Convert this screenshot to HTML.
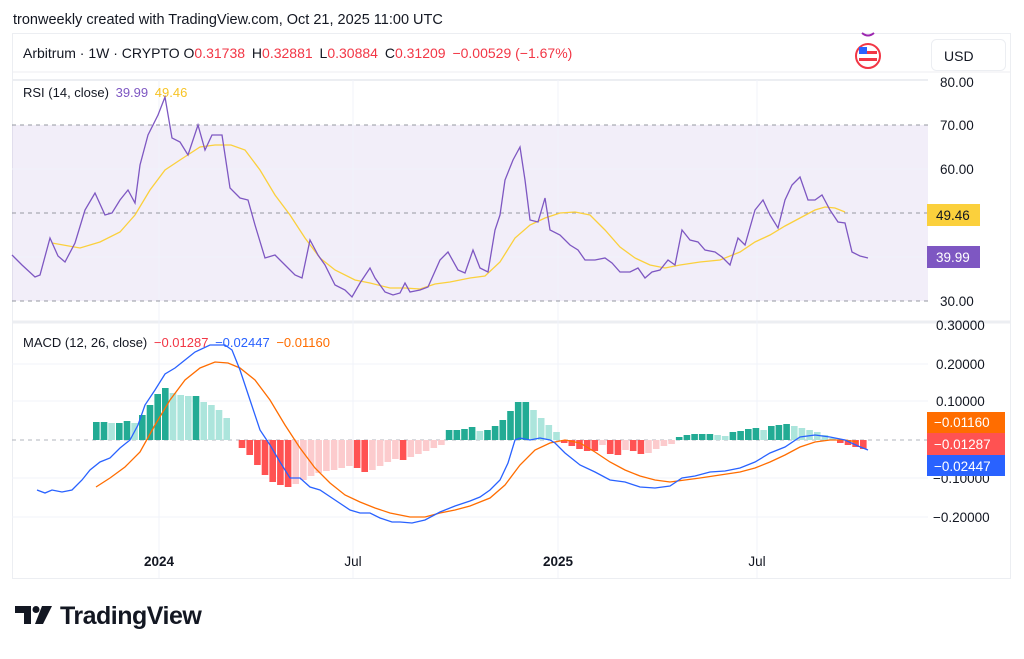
<!DOCTYPE html>
<html><head><meta charset="utf-8"><style>
body{margin:0;background:#fff;width:1024px;height:654px;overflow:hidden;font-family:"Liberation Sans",sans-serif}
svg text{font-family:"Liberation Sans",sans-serif}
</style></head><body>
<svg id="s" width="1024" height="654" viewBox="0 0 1024 654" xmlns="http://www.w3.org/2000/svg">
<rect width="1024" height="654" fill="#fff"/>
<text x="13" y="24" font-size="14.5" fill="#131722">tronweekly created with TradingView.com, Oct 21, 2025 11:00 UTC</text>
<rect x="12.5" y="33.5" width="998" height="545" fill="#fff" stroke="#eceef2"/>
<line x1="12" y1="72" x2="1010" y2="72" stroke="#eceef2"/>
<line x1="12" y1="80" x2="928" y2="80" stroke="#eceef2" stroke-width="2"/>
<line x1="12" y1="322" x2="1010" y2="322" stroke="#eceef2" stroke-width="3"/>
<text x="23" y="58" font-size="14" fill="#131722">Arbitrum · 1W · CRYPTO  <tspan>O</tspan><tspan fill="#f23645">0.31738</tspan> <tspan dx="3">H</tspan><tspan fill="#f23645">0.32881</tspan> <tspan dx="3">L</tspan><tspan fill="#f23645">0.30884</tspan> <tspan dx="3">C</tspan><tspan fill="#f23645">0.31209</tspan> <tspan dx="3" fill="#f23645">−0.00529 (−1.67%)</tspan></text>
<path d="M862 33 Q868 38 874 33" stroke="#9c27b0" stroke-width="2" fill="none"/>
<circle cx="868" cy="56" r="12" fill="#fff" stroke="#f23645" stroke-width="2"/>
<rect x="859" y="51" width="18" height="3" fill="#f23645"/><rect x="859" y="58" width="18" height="3" fill="#f23645"/>
<rect x="859" y="47" width="8" height="7" fill="#2962ff"/>
<rect x="931.5" y="39.5" width="74" height="31" rx="5" fill="#fff" stroke="#eceef2"/>
<text x="944" y="61" font-size="14" fill="#131722">USD</text>
<rect x="12" y="125" width="916" height="176" fill="#7e57c2" fill-opacity="0.1"/>
<g stroke="#f0f3fa"><line x1="12" y1="169" x2="928" y2="169"/><line x1="12" y1="257" x2="928" y2="257"/>
<line x1="159" y1="80" x2="159" y2="578"/><line x1="353" y1="80" x2="353" y2="578"/><line x1="558" y1="80" x2="558" y2="578"/><line x1="757" y1="80" x2="757" y2="578"/>
<line x1="12" y1="364" x2="928" y2="364"/><line x1="12" y1="401" x2="928" y2="401"/><line x1="12" y1="478" x2="928" y2="478"/><line x1="12" y1="517" x2="928" y2="517"/></g>
<g stroke="#9598a1" stroke-dasharray="4,4" stroke-width="1"><line x1="12" y1="125" x2="928" y2="125"/><line x1="12" y1="213" x2="928" y2="213"/><line x1="12" y1="301" x2="928" y2="301"/></g>
<text x="23" y="97" font-size="13" fill="#131722">RSI (14, close) <tspan fill="#7e57c2" dx="3">39.99</tspan> <tspan fill="#f7c325" dx="3">49.46</tspan></text>
<polyline fill="none" stroke="#fbd03c" stroke-width="1.3" points="52,243 80,248 100,242 120,232 135,215 150,190 165,170 180,160 200,147 215,145 231,145 245,150 260,170 275,195 290,215 305,238 320,258 335,270 355,280 370,283 390,288 405,288 420,289 435,284 450,282 470,278 485,276 500,262 515,238 530,225 545,218 560,213 575,212 590,215 605,230 620,247 635,258 650,265 665,268 680,265 700,262 720,260 740,252 755,242 770,235 785,226 800,218 815,210 825,207 835,208 845,212"/>
<polyline fill="none" stroke="#7e57c2" stroke-width="1.3" points="12,255 22,265 35,277 40,275 50,238 58,256 65,262 75,243 85,210 95,193 105,215 112,213 120,200 128,190 135,203 140,165 148,135 158,115 165,97 172,138 180,142 188,155 198,125 205,150 212,135 222,135 230,188 240,198 248,200 255,225 265,258 275,255 285,265 295,275 302,278 310,240 318,255 325,265 335,285 345,290 352,297 360,283 370,268 375,278 385,292 393,295 400,293 405,283 410,292 420,290 428,287 440,260 448,252 458,270 465,273 473,250 480,268 488,272 495,230 500,215 505,180 513,160 520,147 525,180 530,220 538,222 545,198 550,230 560,235 570,245 578,250 585,260 595,260 605,258 612,263 620,272 630,272 638,268 645,278 652,272 660,270 668,260 675,265 682,230 690,240 698,242 705,250 715,252 722,257 730,265 738,238 745,245 755,210 763,200 770,215 778,228 785,200 792,185 800,177 808,200 815,200 822,195 830,210 838,222 845,223 852,252 860,256 868,258"/>
<g font-size="13.5" fill="#131722">
<text x="940" y="87">80.00</text><text x="940" y="130">70.00</text><text x="940" y="174">60.00</text><text x="940" y="306">30.00</text>
<text x="936" y="330">0.30000</text><text x="936" y="369">0.20000</text><text x="936" y="406">0.10000</text><text x="933" y="483">−0.10000</text><text x="933" y="522">−0.20000</text>
</g>
<rect x="927" y="204" width="53" height="22" fill="#fbd03c"/><text x="936" y="220" font-size="13.5" fill="#131722">49.46</text>
<rect x="927" y="246" width="53" height="22" fill="#7e57c2"/><text x="936" y="262" font-size="13.5" fill="#fff">39.99</text>
<line x1="12" y1="440" x2="928" y2="440" stroke="#b2b5be" stroke-dasharray="4,4"/>
<g id="hist"></g>
<polyline fill="none" stroke="#ff6d00" stroke-width="1.3" points="96,487 110,478 125,467 140,452 155,425 170,400 185,380 200,368 215,362 228,363 240,368 255,380 270,400 285,425 300,448 315,468 330,483 345,495 360,502 375,508 390,513 410,517 425,517 440,513 455,510 470,506 490,498 505,485 520,465 535,450 550,443 565,440 580,443 595,452 610,462 625,470 640,476 655,480 670,482 685,480 700,478 720,475 740,472 755,468 770,462 785,455 800,447 815,442 830,440 845,440 858,442"/>
<polyline fill="none" stroke="#2962ff" stroke-width="1.3" points="37,490 45,493 52,490 62,492 72,490 82,480 90,470 100,462 110,458 120,448 130,440 138,425 145,405 155,390 165,374 175,368 185,360 195,352 210,345 225,345 232,350 240,370 250,400 260,430 270,445 280,462 290,478 300,478 310,487 320,490 335,500 350,510 360,513 370,513 380,518 392,522 400,522 412,523 425,520 440,512 455,506 470,501 480,497 490,490 500,480 508,463 515,440 520,438 530,440 540,438 550,440 555,443 565,453 580,465 595,472 610,480 625,482 640,487 655,488 670,486 682,478 695,476 710,472 725,471 740,468 755,462 770,453 785,447 800,437 815,435 830,437 845,440 858,446 868,450"/>
<text x="23" y="347" font-size="13" fill="#131722">MACD (12, 26, close) <tspan fill="#f23645" dx="3">−0.01287</tspan> <tspan fill="#2962ff" dx="3">−0.02447</tspan> <tspan fill="#ff6d00" dx="3">−0.01160</tspan></text>
<rect x="927" y="412" width="78" height="21" fill="#ff6d00"/><text x="934" y="427" font-size="13.5" fill="#fff">−0.01160</text>
<rect x="927" y="433" width="78" height="22" fill="#ff5252"/><text x="934" y="449" font-size="13.5" fill="#fff">−0.01287</text>
<rect x="927" y="455" width="78" height="21" fill="#2962ff"/><text x="934" y="471" font-size="13.5" fill="#fff">−0.02447</text>
<g font-size="13.5" fill="#131722" font-weight="bold" text-anchor="middle">
<text x="159" y="566">2024</text><text x="558" y="566">2025</text></g>
<g font-size="13.5" fill="#131722" text-anchor="middle"><text x="353" y="566">Jul</text><text x="757" y="566">Jul</text></g>
<path d="M15 606 h16 v18 h-7 v-11 h-9z" fill="#131722"/><circle cx="36" cy="609.5" r="3.5" fill="#131722"/><path d="M42 606 h10 l-9 18 h-8z" fill="#131722"/>
<text x="60" y="624" font-size="25" font-weight="bold" fill="#131722" letter-spacing="-0.5">TradingView</text>
</svg>
<script>
var v=[18,18,17,17,19,17,25,35,46,52,47,45,44,44,38,35,30,22,0,
-8,-15,-25,-35,-42,-45,-47,-44,-40,-36,-33,-31,-30,-28,-26,-28,-32,-30,-26,-22,-19,-20,-17,-14,-11,-8,-5,
10,10,11,13,9,10,14,20,29,38,38,30,22,15,8,
-3,-6,-9,-11,-11,-5,-14,-15,-10,-11,-14,-13,-9,-6,-4,
3,5,6,6,6,5,4,8,9,11,12,10,14,15,16,14,12,10,8,5,2,
-3,-5,-7,-9];
var g=document.getElementById('hist'),h='';
for(var i=0;i<v.length;i++){var x=96+i*7.67,a=v[i],p=i?v[i-1]:0,c;
if(a>=0)c=(a>=p?'#22ab94':'#ace5dc');else c=(a<=p?'#ff5252':'#fccbcd');
var y=a>=0?440-a:440;h+='<rect x="'+(x-3).toFixed(1)+'" y="'+y+'" width="6.6" height="'+Math.abs(a)+'" fill="'+c+'"/>';}
g.innerHTML=h;
</script>
</body></html>
